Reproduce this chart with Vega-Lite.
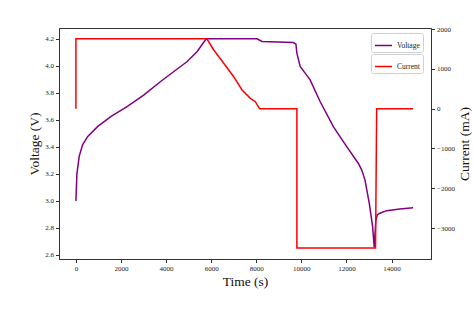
{
  "$schema": "https://vega.github.io/schema/vega-lite/v6.json",
  "width": 372,
  "height": 231,
  "autosize": "none",
  "padding": {"left": 59, "top": 28, "right": 43, "bottom": 61},
  "background": "white",
  "config": {
    "view": {"stroke": "#333", "strokeWidth": 1},
    "axis": {
      "grid": false,
      "domainColor": "#333",
      "tickColor": "#333",
      "tickSize": 3.5,
      "labelFont": "Liberation Serif",
      "labelFontSize": 7,
      "labelColor": "#222",
      "labelPadding": 2,
      "titleFont": "Liberation Serif",
      "titleFontSize": 13.5,
      "titleFontWeight": "normal",
      "titleColor": "#111"
    },
    "legend": {
      "labelFont": "Liberation Serif",
      "labelFontSize": 7.5,
      "labelColor": "#222",
      "strokeColor": "#d0d0d0",
      "fillColor": "white",
      "padding": 3,
      "cornerRadius": 2,
      "symbolType": "stroke",
      "symbolSize": 289,
      "symbolStrokeWidth": 1.5,
      "labelOffset": 4
    }
  },
  "datasets": {
    "voltage": [
      {"t": 0, "v": 3.0},
      {"t": 44, "v": 3.2},
      {"t": 146, "v": 3.33},
      {"t": 296, "v": 3.415},
      {"t": 517, "v": 3.476},
      {"t": 959, "v": 3.55},
      {"t": 1547, "v": 3.624},
      {"t": 2286, "v": 3.7},
      {"t": 3019, "v": 3.785},
      {"t": 3758, "v": 3.884},
      {"t": 4346, "v": 3.958},
      {"t": 4938, "v": 4.032},
      {"t": 5380, "v": 4.106},
      {"t": 5780, "v": 4.2},
      {"t": 8032, "v": 4.2},
      {"t": 8254, "v": 4.18},
      {"t": 9651, "v": 4.172},
      {"t": 9760, "v": 4.16},
      {"t": 9801, "v": 4.094},
      {"t": 9947, "v": 3.995},
      {"t": 10150, "v": 3.95},
      {"t": 10389, "v": 3.896},
      {"t": 10831, "v": 3.736},
      {"t": 11419, "v": 3.55},
      {"t": 12011, "v": 3.402},
      {"t": 12524, "v": 3.279},
      {"t": 12675, "v": 3.23},
      {"t": 12821, "v": 3.156},
      {"t": 13011, "v": 2.983},
      {"t": 13161, "v": 2.81},
      {"t": 13232, "v": 2.655},
      {"t": 13300, "v": 2.85},
      {"t": 13364, "v": 2.896},
      {"t": 13484, "v": 2.909},
      {"t": 13780, "v": 2.928},
      {"t": 14368, "v": 2.941},
      {"t": 14956, "v": 2.95}
    ],
    "current": [
      {"t": 0, "i": 0},
      {"t": 0, "i": 1760},
      {"t": 5780, "i": 1760},
      {"t": 5822, "i": 1744},
      {"t": 6114, "i": 1475},
      {"t": 6556, "i": 1141},
      {"t": 6998, "i": 804},
      {"t": 7370, "i": 470},
      {"t": 7737, "i": 261},
      {"t": 7958, "i": 176},
      {"t": 8148, "i": 0},
      {"t": 9801, "i": 0},
      {"t": 9801, "i": -3500},
      {"t": 13290, "i": -3500},
      {"t": 13340, "i": 0},
      {"t": 14956, "i": 0}
    ]
  },
  "layer": [
    {
      "data": {"name": "voltage"},
      "transform": [{"calculate": "'Voltage'", "as": "series"}],
      "mark": {"type": "line", "strokeWidth": 1.5, "clip": true},
      "encoding": {
        "x": {
          "field": "t", "type": "quantitative",
          "scale": {"domain": [-750, 15750], "nice": false, "zero": false},
          "axis": {"title": "Time (s)", "values": [0, 2000, 4000, 6000, 8000, 10000, 12000, 14000], "format": "d", "titlePadding": 3}
        },
        "y": {
          "field": "v", "type": "quantitative",
          "scale": {"domain": [2.57, 4.28], "nice": false, "zero": false},
          "axis": {"title": "Voltage (V)", "values": [2.6, 2.8, 3.0, 3.2, 3.4, 3.6, 3.8, 4.0, 4.2], "format": ".1f", "titlePadding": 3}
        },
        "color": {
          "field": "series", "type": "nominal",
          "scale": {"domain": ["Voltage"], "range": ["#800080"]},
          "legend": {"title": null, "orient": "none", "legendX": 312, "legendY": 5}
        },
        "order": {"value": null}
      }
    },
    {
      "data": {"name": "current"},
      "transform": [{"calculate": "'Current'", "as": "series"}],
      "mark": {"type": "line", "strokeWidth": 1.5, "clip": true},
      "encoding": {
        "x": {"field": "t", "type": "quantitative"},
        "y": {
          "field": "i", "type": "quantitative",
          "scale": {"domain": [-3776, 2027], "nice": false, "zero": false},
          "axis": {"title": "Current (mA)", "orient": "right", "titleAngle": 270, "titleBaseline": "top", "values": [-3000, -2000, -1000, 0, 1000, 2000], "labelExpr": "replace(format(datum.value, 'd'), '-', '\u2212')", "titlePadding": 3}
        },
        "color": {
          "field": "series", "type": "nominal",
          "scale": {"domain": ["Current"], "range": ["#ff0000"]},
          "legend": {"title": null, "orient": "none", "legendX": 312, "legendY": 26}
        },
        "order": {"value": null}
      }
    }
  ],
  "resolve": {"scale": {"y": "independent", "color": "independent"}, "legend": {"color": "independent"}}
}
